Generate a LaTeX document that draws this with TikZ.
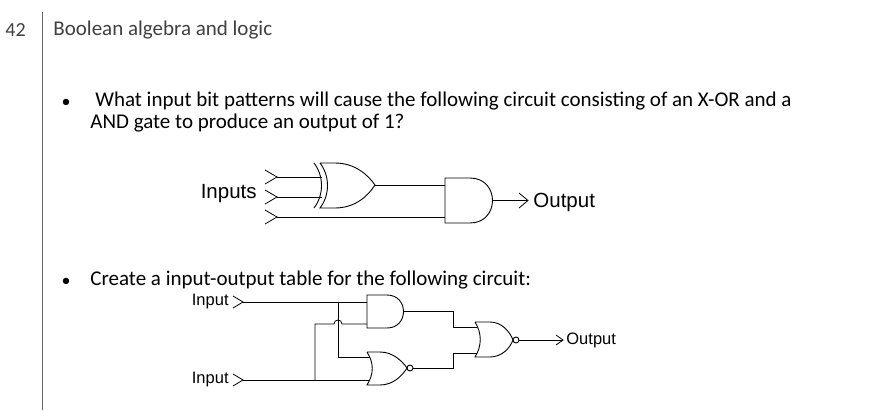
\documentclass[tikz,border=0pt]{standalone}
\usepackage{fontspec}
\setmainfont{Carlito}
\newfontfamily\lab{Liberation Sans}
\begin{document}
\begin{tikzpicture}[x=1pt,y=-1pt,line width=0.8pt,
  body/.style={anchor=west,font=\fontsize{21}{25}\selectfont,inner sep=0},
  clab/.style={font=\lab\fontsize{20.5}{22}\selectfont,inner sep=0},
  clabs/.style={font=\lab\fontsize{16.5}{18}\selectfont,inner sep=0},
  w/.style={line width=0.8pt},
  gate/.style={line width=0.9pt}]
\useasboundingbox (0,0) rectangle (874,410);
% header
\node[anchor=west,inner sep=0,font=\fontsize{20}{24}\selectfont,text=black!75] (pg) at (5,30) {42};
\node[anchor=west,inner sep=0,font=\fontsize{21}{24}\selectfont,text=black!75] (title) at (53,30) {Boolean algebra and logic};
\draw[black!60,line width=1pt] (42,12) -- (42,410);
% bullets
\node[inner sep=0,font=\fontsize{18}{20}\selectfont] (b1) at (66,103) {•};
\node[body] (t1) at (95,101) {What input bit patterns will cause the following circuit consisting of an X-OR and a};
\node[body] (t1b) at (90,123) {AND gate to produce an output of 1?};
\node[inner sep=0,font=\fontsize{18}{20}\selectfont] (b2) at (66,282) {•};
\node[body] (t2) at (90,280) {Create a input-output table for the following circuit:};

% ---- circuit 1
\node[clab,anchor=east] (inputs) at (257,194) {Inputs};
\foreach \n/\y in {i1/177,i2/197,i3/217}{
  \draw[w] (265,\y-7) -- (277,\y) -- (265,\y+7);
  \coordinate (\n) at (277,\y);}
% XOR
\draw[gate] (320,163) -- (335,163) .. controls (355,163) and (368,175) .. (375,185)
  .. controls (368,196) and (355,208) .. (335,208) -- (320,208)
  .. controls (330,195) and (330,176) .. (320,163);
\draw[gate] (314,163) .. controls (324,176) and (324,195) .. (314,208);
\coordinate (xo) at (375,185);
\draw[w] (i1) -- (322,177);
\draw[w] (i2) -- (322,197);
% AND
\draw[gate] (445,178) -- (470,178) .. controls (500,178) and (500,223) .. (470,223) -- (445,223) -- cycle;
\coordinate (ao) at (492.5,200.5);
\draw[w] (xo) -- (445,185);
\draw[w] (i3) -- (445,217);
\draw[w] (ao) -- (528,200.5);
\draw[w] (519,193) -- (528,200.5) -- (519,208);
\node[clab,anchor=west] (out1) at (533,202) {Output};

% ---- circuit 2
\node[clabs,anchor=east] (in1) at (229,302) {Input};
\node[clabs,anchor=east] (in2) at (229,380) {Input};
\draw[w] (233,296) -- (243,302) -- (233,308);
\draw[w] (233,374) -- (243,380) -- (233,386);
% AND gate
\draw[gate] (367,295) -- (387,295) .. controls (409,295) and (409,328) .. (387,328) -- (367,328) -- cycle;
% lower NOR
\draw[gate] (367,352) -- (380,352) .. controls (393,352) and (402,361) .. (407,368)
  .. controls (402,376) and (393,385) .. (380,385) -- (367,385)
  .. controls (374,374) and (374,363) .. (367,352);
\draw[gate] (410,368) circle[radius=3];
% right NOR
\draw[gate] (475,322) -- (490,322) .. controls (502,322) and (510,332) .. (513,340)
  .. controls (510,348) and (502,357) .. (490,357) -- (475,357)
  .. controls (482,346) and (482,333) .. (475,322);
\draw[gate] (516,340) circle[radius=3];
% wires
\draw[w] (243,302) -- (367,302);
\draw[w] (243,380) -- (369,380);
\draw[w] (315,380) -- (315,324) -- (334,324) .. controls (334,318.7) and (342,318.7) .. (342,324) -- (367,324);
\draw[w] (338,302) -- (338,357) -- (370,357);
\draw[w] (403.5,311) -- (453,311) -- (453,327) -- (477,327);
\draw[w] (413,368) -- (453,368) -- (453,353) -- (477,353);
\draw[w] (519,340) -- (563,340);
\draw[w] (556,335) -- (563,340) -- (556,345);
\node[clabs,anchor=west] (out2) at (566,340) {Output};
\end{tikzpicture}
\end{document}
